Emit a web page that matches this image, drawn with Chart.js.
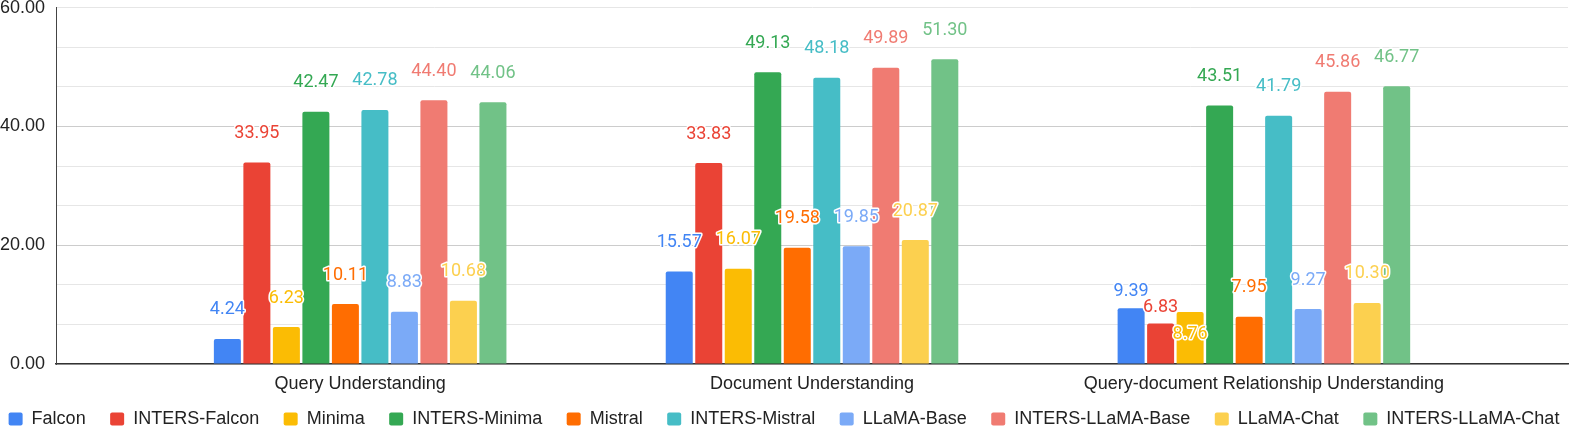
<!DOCTYPE html>
<html>
<head>
<meta charset="utf-8">
<script src="https://cdn.jsdelivr.net/npm/chart.js@4"></script>
<style>
  html, body { margin: 0; padding: 0; background: #ffffff; }
  #wrap { position: relative; width: 1572px; height: 430px; }
</style>
</head>
<body>
<div id="wrap"><canvas id="c"></canvas></div>
<script>
// ---- data ----
const categories = ['Query Understanding', 'Document Understanding', 'Query-document Relationship Understanding'];
const seriesNames = ['Falcon', 'INTERS-Falcon', 'Minima', 'INTERS-Minima', 'Mistral', 'INTERS-Mistral', 'LLaMA-Base', 'INTERS-LLaMA-Base', 'LLaMA-Chat', 'INTERS-LLaMA-Chat'];
const falcon          = [4.24, 15.57, 9.39];
const intersFalcon    = [33.95, 33.83, 6.83];
const minima          = [6.23, 16.07, 8.76];
const intersMinima    = [42.47, 49.13, 43.51];
const mistral         = [10.11, 19.58, 7.95];
const intersMistral   = [42.78, 48.18, 41.79];
const llamaBase       = [8.83, 19.85, 9.27];
const intersLlamaBase = [44.40, 49.89, 45.86];
const llamaChat       = [10.68, 20.87, 10.30];
const intersLlamaChat = [44.06, 51.30, 46.77];
const yMajorTicks = [0, 20, 40, 60];

// ---- styles ----
const seriesValues = [falcon, intersFalcon, minima, intersMinima, mistral, intersMistral, llamaBase, intersLlamaBase, llamaChat, intersLlamaChat];
const seriesColors = ['#4285F4', '#EA4335', '#FBBC04', '#34A853', '#FF6D01', '#46BDC6', '#7BAAF7', '#F07B72', '#FCD04F', '#71C287'];
const axisFont = "'Liberation Sans', Arial, sans-serif";
const labelFont = "Roboto, 'Liberation Sans', sans-serif";
const FS = 18;
const labelGap = 29;
// label collision nudges (distance of label centre above bar top), by series, category index
const labelGapOverrides = { 'Falcon': { 2: 16.6 }, 'INTERS-Falcon': { 2: 16 }, 'Minima': { 2: -22.5 } };
const legendHeight = 25.3;
const legendOverflow = 30;
const legendTextFromBottom = 11;

// minor grid: each 20-step divided in 3
const yGridValues = [];
for (let k = 0; k < yMajorTicks.length - 1; k++) {
  for (let j = 0; j < 3; j++) yGridValues.push(yMajorTicks[k] + (yMajorTicks[k + 1] - yMajorTicks[k]) * j / 3);
}
yGridValues.push(yMajorTicks[yMajorTicks.length - 1]);
const isMajor = v => yMajorTicks.some(m => Math.abs(m - v) < 1e-6);

const valueLabels = {
  id: 'valueLabels',
  afterDatasetsDraw(chart) {
    const ctx = chart.ctx;
    ctx.save();
    ctx.font = FS + 'px ' + labelFont;
    ctx.textAlign = 'center';
    ctx.textBaseline = 'middle';
    ctx.lineJoin = 'round';
    chart.data.datasets.forEach((ds, di) => {
      const meta = chart.getDatasetMeta(di);
      meta.data.forEach((bar, i) => {
        const txt = Number(ds.data[i]).toFixed(2);
        const ov = labelGapOverrides[ds.label];
        const gap = (ov && ov[i] !== undefined) ? ov[i] : labelGap;
        const y = bar.y - gap;
        ctx.lineWidth = 3;
        ctx.strokeStyle = '#ffffff';
        ctx.strokeText(txt, bar.x, y);
        ctx.fillStyle = ds.backgroundColor;
        ctx.fillText(txt, bar.x, y);
      });
    });
    ctx.restore();
  }
};

// keep the legend on one compact row (wide item spacing, tight vertical space)
const legendLayout = {
  id: 'legendLayout',
  afterInit(chart) {
    const lg = chart.legend;
    if (!lg || lg._compactPatched) return;
    const fit = lg.fit;
    lg.fit = function () {
      const mw = this.maxWidth;
      this.maxWidth = mw + legendOverflow * 2;
      fit.call(this);
      this.maxWidth = mw;
      this.width = mw;
      this.height = legendHeight;
    };
    lg._compactPatched = true;
  },
  afterLayout(chart) {
    const lg = chart.legend;
    if (!lg) return;
    lg.left -= legendOverflow;
    lg.right += legendOverflow;
    lg.width += legendOverflow * 2;
    const P = lg.options.labels.padding;
    lg.top = lg.bottom - legendTextFromBottom - P - FS / 2;
  }
};

new Chart(document.getElementById('c'), {
  type: 'bar',
  data: {
    labels: categories.map((_, i) => i),
    datasets: seriesNames.map((name, i) => ({
      label: name,
      data: seriesValues[i],
      backgroundColor: seriesColors[i],
      borderWidth: 0,
      borderRadius: 2,
      categoryPercentage: 0.653,
      barPercentage: 0.915
    }))
  },
  options: {
    responsive: true,
    maintainAspectRatio: false,
    animation: false,
    layout: { padding: { left: 0, right: 4, top: 0, bottom: 0 } },
    plugins: {
      tooltip: { enabled: false },
      legend: {
        position: 'bottom',
        labels: {
          font: { family: axisFont, size: FS },
          color: '#222222',
          boxWidth: 14,
          boxHeight: 13,
          padding: 24.5,
          useBorderRadius: true,
          borderRadius: 2
        }
      }
    },
    scales: {
      x: {
        type: 'linear',
        min: -0.673,
        max: 2.673,
        offset: false,
        afterBuildTicks: s => { s.ticks = categories.map((_, i) => ({ value: i })); },
        ticks: {
          callback: v => categories[v] !== undefined ? categories[v] : '',
          font: { family: axisFont, size: FS },
          color: '#222222',
          padding: 9.5,
          maxRotation: 0,
          autoSkip: false
        },
        grid: { display: false, drawTicks: false },
        border: { display: true, color: '#333333', width: 1.5 }
      },
      y: {
        min: 0,
        max: 60,
        afterBuildTicks: s => { s.ticks = yGridValues.map(v => ({ value: v })); },
        ticks: {
          callback: v => isMajor(v) ? v.toFixed(2) : '',
          font: { family: axisFont, size: FS, lineHeight: 0.85 },
          color: '#222222',
          padding: 0,
          autoSkip: false
        },
        grid: {
          drawTicks: true,
          tickLength: 11,
          tickColor: 'rgba(0,0,0,0)',
          color: ctx => (ctx.tick && isMajor(ctx.tick.value) && ctx.tick.value > 0 && ctx.tick.value < 60) ? '#cccccc' : '#e6e6e6'
        },
        border: { display: true, color: '#444444', width: 1 }
      }
    }
  },
  plugins: [valueLabels, legendLayout]
});
</script>
</body>
</html>
